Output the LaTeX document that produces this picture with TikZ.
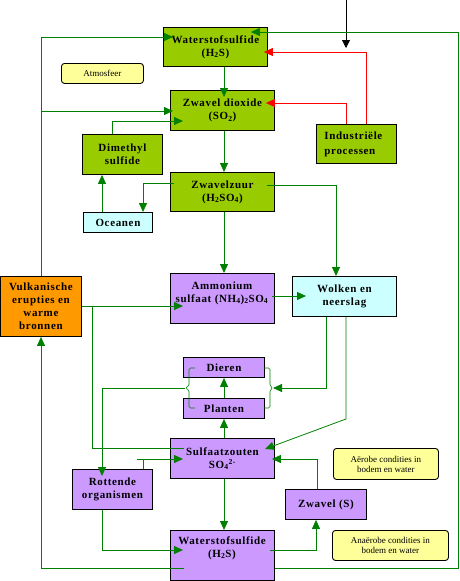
\documentclass[tikz,border=0pt]{standalone}
\usepackage{fontspec}
\setmainfont{Liberation Serif}
\newfontfamily\spacedserif[LetterSpace=6]{Liberation Serif}
\usetikzlibrary{arrows.meta}
\definecolor{lgreen}{RGB}{153,204,0}
\definecolor{lpurple}{RGB}{204,153,255}
\definecolor{lcyan}{RGB}{204,255,255}
\definecolor{lorange}{RGB}{255,153,0}
\definecolor{lyellow}{RGB}{255,255,153}
\definecolor{dgreen}{RGB}{0,128,0}
\tikzset{
  box/.style={draw=black, line width=0.9pt, inner sep=0pt, align=center, anchor=north west,
    font=\spacedserif\bfseries\fontsize{11}{13}\selectfont},
  gbox/.style={box, fill=lgreen},
  pbox/.style={box, fill=lpurple},
  cbox/.style={box, fill=lcyan},
  obox/.style={box, fill=lorange},
  note/.style={draw=black, line width=0.9pt, rounded corners=3pt, fill=lyellow, inner sep=0pt,
    anchor=north west, align=center, font=\fontsize{9}{10}\selectfont},
  btext/.style={inner sep=0pt, align=center, font=\spacedserif\bfseries\fontsize{11}{13}\selectfont},
  gl/.style={draw=dgreen, line width=0.8pt},
  ga/.style={gl, -{Triangle[length=9pt,width=8pt]}},
  ra/.style={draw=red, line width=0.8pt, -{Triangle[length=9pt,width=8pt]}},
  ba/.style={draw=black, line width=0.8pt, -{Triangle[length=8pt,width=8pt]}},
  brace/.style={draw=dgreen, line width=0.6pt, rounded corners=1.5pt}
}
\begin{document}
\begin{tikzpicture}[x=1pt,y=-1pt]
\useasboundingbox (0,0) rectangle (459,581);
% boxes
\node[gbox, minimum width=104pt, minimum height=39pt] (h2st) at (163,27) {Waterstofsulfide\\(H\textsubscript{2}S)};
\node[note, minimum width=82pt, minimum height=20pt] (atm) at (61,63) {Atmosfeer};
\node[gbox, minimum width=104pt, minimum height=40pt] (so2) at (170,90) {Zwavel dioxide\\(SO\textsubscript{2})};
\node[gbox, minimum width=80pt, minimum height=39pt, align=left, font=\spacedserif\bfseries\fontsize{11}{15}\selectfont, text width=64pt, inner xsep=8pt] (ind) at (316,124) {Industriële\\processen};
\node[gbox, minimum width=80pt, minimum height=40pt] (dms) at (82,134) {Dimethyl\\sulfide};
\node[gbox, minimum width=104pt, minimum height=39pt] (zz) at (170,172) {Zwavelzuur\\(H\textsubscript{2}SO\textsubscript{4})};
\node[cbox, minimum width=69pt, minimum height=20pt] (oce) at (83,212) {Oceanen};
\node[obox, minimum width=81pt, minimum height=60pt] (vul) at (0,276) {Vulkanische\\erupties en\\warme\\bronnen};
\node[pbox, minimum width=104pt, minimum height=50pt] (amm) at (170,273) {};
\node[btext] (ammt) at (222,293) {Ammonium\\sulfaat (NH\textsubscript{4})\textsubscript{2}SO\textsubscript{4}};
\node[cbox, minimum width=104pt, minimum height=40pt] (wol) at (292,276) {Wolken en\\neerslag};
\node[pbox, minimum width=81pt, minimum height=20pt] (die) at (183,357) {Dieren};
\node[pbox, minimum width=81pt, minimum height=20pt] (pla) at (183,398) {Planten};
\node[pbox, minimum width=104pt, minimum height=40pt] (sul) at (170,438) {Sulfaatzouten\\SO\textsubscript{4}\textsuperscript{2-}};
\node[pbox, minimum width=80pt, minimum height=40pt] (rot) at (72,469) {Rottende\\organismen};
\node[pbox, minimum width=81pt, minimum height=30pt] (zws) at (285,489) {Zwavel (S)};
\node[note, minimum width=105pt, minimum height=31pt] (aer) at (333,448) {Aërobe condities in\\bodem en water};
\node[note, minimum width=116pt, minimum height=30pt] (ana) at (332,530) {Anaërobe condities in\\bodem en water};
\node[pbox, minimum width=104pt, minimum height=50pt] (h2sb) at (170,530) {};
\node[btext] (h2sbt) at (222,548) {Waterstofsulfide\\(H\textsubscript{2}S)};
% braces
\draw[brace] (195,368) -- (189,368) -- (189,386) -- (185,388) -- (189,390) -- (189,408) -- (195,408);
\draw[brace] (264,368) -- (270,368) -- (270,386) -- (273,388) -- (270,390) -- (270,408) -- (264,408);
\coordinate (lb) at (185,388);
\coordinate (rb) at (273,388);
% coordinates
\coordinate (topin) at (346,0);
\coordinate (blk) at (346,48);
\coordinate (j111) at (41,111);
\coordinate (j92) at (92,306);
\coordinate (sulin) at (265,449);
\coordinate (stub) at (137,459);
% black
\draw[ba] (topin) -- (blk);
% red
\draw[ra, shorten >=-4pt] (ind.north -| 366,0) -- (366,52) -- (h2st.east |- 0,52);
\draw[ra, shorten >=-9pt] (ind.north -| 346,0) -- (346,103) -- (so2.east |- 0,103);
% green
\draw[ga, shorten >=-17pt] (h2sb.east |- 0,568) -- (458,568) -- (458,32) -- (h2st.east |- 0,32);
\draw[ga, shorten >=-7pt] (h2st.south -| 224,0) -- (so2.north -| 224,0);
\draw[ga] (so2.south -| 224,0) -- (zz.north -| 224,0);
\draw[ga, shorten >=-10pt] (vul.north -| 41,0) -- (41,37) -- (h2st.west |- 0,37);
\draw[ga, shorten >=-3pt] (j111) -- (so2.west |- 0,111);
\draw[ga, shorten >=-13pt] (dms.north -| 112,0) -- (112,121) -- (so2.west |- 0,121);
\draw[ga, shorten <=-4pt] (zz.west |- 0,183) -- (143,183) -- (oce.north -| 143,0);
\draw[ga] (oce.north -| 102,0) -- (dms.south -| 102,0);
\draw[ga, shorten <=-8pt] (zz.east |- 0,185) -- (336,185) -- (wol.north -| 336,0);
\draw[ga] (zz.south -| 224,0) -- (amm.north -| 224,0);
\draw[ga, shorten >=-13pt] (vul.east |- 0,306) -- (amm.west |- 0,306);
\draw[gl, shorten >=-14pt] (j92) -- (92,448) -- (sul.west |- 0,448);
\draw[ga, shorten <=-3pt, shorten >=-14pt] (amm.east |- 0,296) -- (wol.west |- 0,296);
\draw[ga] (wol.south -| 326,0) -- (326,388) -- (rb);
\draw[ga] (wol.south -| 346,0) -- (346,419) -- (sulin);
\draw[ga, shorten >=-7pt] (lb) -- (102,388) -- (rot.north -| 102,0);
\draw[ga] (sul.north -| 224,0) -- (pla.south -| 224,0);
\draw[ga] (pla.north -| 224,0) -- (die.south -| 224,0);
\draw[gl] (rot.north -| 143,0) -- (143,459);
\draw[ga, shorten >=-13pt] (stub) -- (sul.west |- 0,459);
\draw[ga, shorten >=-13pt] (rot.south -| 102,0) -- (102,550) -- (h2sb.west |- 0,550);
\draw[ga, shorten <=-14pt] (h2sb.west |- 0,568) -- (41,568) -- (vul.south -| 41,0);
\draw[ga] (sul.south -| 224,0) -- (h2sb.north -| 224,0);
\draw[ga, shorten >=-3pt] (zws.north -| 317,0) -- (317,459) -- (sul.east |- 0,459);
\draw[ga, shorten <=-5pt] (h2sb.east |- 0,550) -- (316,550) -- (zws.south -| 316,0);
\end{tikzpicture}
\end{document}
